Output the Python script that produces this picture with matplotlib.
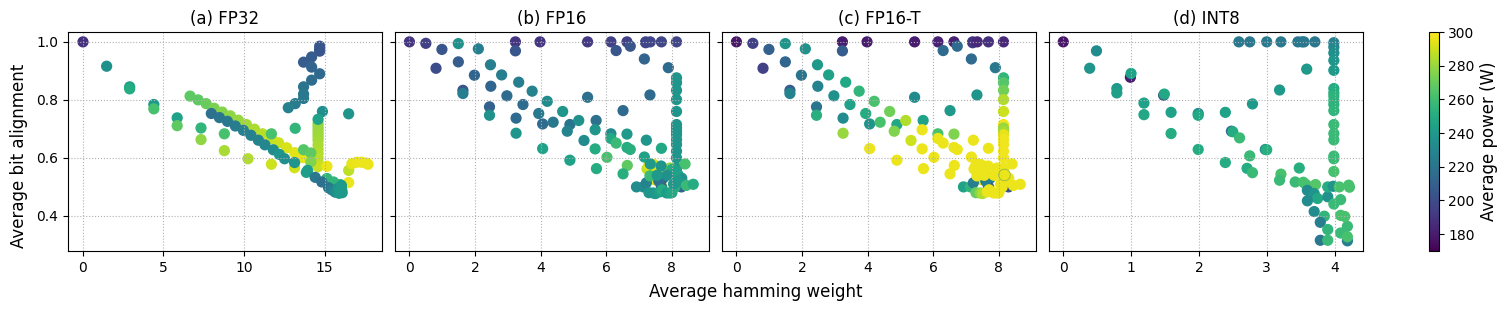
from matplotlib import pyplot as plt
from matplotlib.cm import ScalarMappable
from matplotlib.colors import Normalize

# FP32
hw_fp32 = [0, 1.47, 2.9, 2.9, 4.4, 4.4, 5.85, 5.85, 7.33, 7.33, 8.78, 8.78, 10.25, 11.7, 13.14,
           6.65, 7.15, 7.65, 8.15, 8.65, 9.15, 9.65, 10.15, 10.65, 11.15, 11.7, 12.15, 12.65, 13.15, 13.65, 14.15,
           14.6, 14.6, 14.6, 14.6, 14.6, 14.6, 14.6, 14.6, 14.6, 14.6, 14.6, 14.6, 14.6,
           11.7, 13.18, 13.7, 14.15, 14.15, 15.15, 16.5, 16.5, 16.7, 17.0, 17.3, 17.6, 17.7,
           15.15, 15.56, 15.97, 16.07, 13.87, 13.95, 13.14,
           7.97, 8.47, 8.97, 9.46, 9.96, 10.43, 10.89, 11.3, 11.82, 12.2, 12.52,
           14.42, 14.83, 15.25, 15.45, 15.66, 15.85, 15.9, 16.03, 16.03, 16.05, 16.1,
           14.7, 14.7, 14.7, 14.2, 13.7, 14.2, 14.7, 14.2, 13.7, 13.7, 13.7, 13.18, 12.75,
           14.87, 16.5, 14.6]
ba_fp32 = [1.0, 0.916, 0.845, 0.838, 0.784, 0.769, 0.738, 0.711, 0.703, 0.663, 0.683, 0.625, 0.597, 0.578, 0.566,
           0.813, 0.8, 0.787, 0.771, 0.758, 0.745, 0.73, 0.715, 0.699, 0.683, 0.667, 0.652, 0.635, 0.618, 0.601, 0.586,
           0.72, 0.71, 0.7, 0.69, 0.68, 0.67, 0.66, 0.645, 0.63, 0.615, 0.6, 0.585, 0.57,
           0.683, 0.702, 0.628, 0.617, 0.586, 0.571, 0.557, 0.515, 0.58, 0.585, 0.585, 0.582, 0.578,
           0.529, 0.517, 0.508, 0.49, 0.55, 0.557, 0.584,
           0.753, 0.739, 0.726, 0.71, 0.695, 0.678, 0.661, 0.645, 0.628, 0.612, 0.597,
           0.533, 0.517, 0.497, 0.49, 0.482, 0.495, 0.478, 0.482, 0.49, 0.505, 0.48,
           0.985, 0.975, 0.968, 0.948, 0.93, 0.913, 0.89, 0.868, 0.845, 0.82, 0.805, 0.787, 0.773,
           0.76, 0.752, 0.733]
pw_fp32 = [188, 235, 245, 250, 240, 262, 245, 268, 255, 278, 262, 283, 285, 290, 291,
           268, 268, 270, 274, 276, 278, 280, 282, 284, 286, 288, 290, 292, 294, 295, 296,
           279, 279, 280, 280, 281, 281, 282, 283, 284, 285, 286, 287, 289,
           262, 255, 265, 268, 275, 296, 287, 296, 295, 296, 296, 296, 296,
           255, 255, 255, 245, 245, 242, 238,
           218, 220, 222, 224, 226, 226, 228, 230, 232, 238, 234,
           222, 218, 220, 225, 232, 238, 240, 240, 240, 240, 240,
           205, 205, 205, 208, 208, 212, 214, 216, 220, 222, 222, 224, 226,
           234, 238, 245]

# FP16 and FP16-T share the same points
hw_fp16 = [0, 0.5, 0.99, 1.49, 2.1, 3.23, 3.23, 3.98, 5.43, 6.14, 6.3, 6.63, 6.73, 7.2, 7.2, 7.34, 7.68, 8.14,
           7.16, 7.89,
           8.14, 8.14, 8.14, 8.14, 8.14, 8.14, 8.14, 8.14, 8.14, 8.14, 8.14, 8.14, 8.14, 8.14,
           0.81, 1.49, 1.98, 2.47, 2.81, 3.33, 3.74, 1.63, 1.63, 2.48, 2.97, 3.46, 2.44, 2.44, 3.25, 3.25,
           4.2, 3.94, 4.06, 4.38, 4.67, 4.89, 4.81, 5.16, 5.43, 5.69, 5.66, 5.32, 4.06, 4.89, 5.66, 5.7, 6.02,
           6.51, 6.14, 6.14, 6.3, 6.63, 6.63, 6.73, 6.64, 6.51, 7.22, 7.68, 7.33,
           7.24, 7.45, 7.94, 7.49, 7.7, 7.3, 7.55, 7.16, 8.14,
           7.73, 7.68, 7.6, 8.29, 6.92, 7.13, 7.22,
           7.3, 7.43, 7.5, 7.64, 7.7, 7.84, 7.94, 8.0, 8.1, 7.34, 7.67, 8.4, 8.19, 8.0, 8.3, 8.14,
           7.33, 8.05, 7.85, 7.55, 8.2, 8.44, 8.65]
ba_fp16 = [1.0, 0.995, 0.974, 0.994, 0.976, 1.0, 0.969, 1.0, 1.0, 1.0, 0.97, 1.0, 0.985, 0.997, 1.0, 1.0, 1.0, 1.0,
           0.941, 0.911,
           0.876, 0.859, 0.833, 0.801, 0.76, 0.715, 0.703, 0.692, 0.68, 0.663, 0.646, 0.623, 0.6, 0.565,
           0.909, 0.931, 0.885, 0.921, 0.886, 0.861, 0.83, 0.833, 0.822, 0.847, 0.814, 0.784, 0.776, 0.747, 0.737, 0.685,
           0.795, 0.753, 0.717, 0.723, 0.76, 0.715, 0.692, 0.729, 0.809, 0.729, 0.697, 0.66, 0.632, 0.592, 0.631, 0.563, 0.602,
           0.763, 0.683, 0.667, 0.651, 0.682, 0.636, 0.629, 0.574, 0.545, 0.661, 0.633, 0.817,
           0.562, 0.577, 0.565, 0.524, 0.5, 0.575, 0.555, 0.603, 0.54,
           0.53, 0.5, 0.52, 0.5, 0.5, 0.5, 0.514,
           0.48, 0.479, 0.477, 0.483, 0.49, 0.479, 0.479, 0.48, 0.5, 0.579, 0.572, 0.579, 0.541, 0.56, 0.53, 0.555,
           0.538, 0.51, 0.54, 0.54, 0.52, 0.505, 0.509]
pw_fp16 = [190, 195, 205, 235, 225, 190, 205, 190, 192, 195, 205, 195, 205, 200, 197, 197, 197, 197,
           212, 215,
           238, 238, 238, 238, 238, 238, 238, 238, 238, 238, 238, 238, 238, 240,
           200, 208, 212, 225, 225, 225, 228, 205, 225, 212, 215, 215, 210, 235, 215, 238,
           232, 222, 215, 222, 238, 220, 228, 235, 218, 218, 238, 232, 245, 245, 250, 250, 262,
           215, 232, 248, 258, 240, 250, 252, 268, 252, 238, 248, 215,
           288, 292, 280, 294, 290, 294, 292, 245, 240,
           215, 212, 218, 208, 232, 232, 228,
           238, 238, 240, 245, 250, 242, 245, 248, 250, 240, 238, 262, 245, 250, 235, 245,
           258, 240, 235, 240, 240, 258, 250]
pw_fp16t = [178, 195, 210, 238, 235, 180, 208, 180, 180, 182, 215, 182, 215, 195, 190, 185, 188, 185,
            215, 222,
            255, 265, 272, 285, 290, 297, 280, 282, 295, 297, 297, 297, 297, 297,
            195, 212, 220, 240, 245, 248, 255, 210, 228, 228, 235, 245, 220, 252, 232, 280,
            262, 250, 238, 262, 272, 248, 275, 285, 232, 245, 296, 290, 296, 296, 296, 296, 296,
            240, 262, 296, 296, 275, 296, 296, 296, 296, 296, 296, 238,
            296, 296, 296, 296, 296, 296, 296, 296, 296,
            225, 205, 225, 205, 245, 255, 225,
            270, 278, 285, 296, 296, 296, 296, 296, 296, 296, 296, 296, 296, 296, 296, 296,
            296, 296, 296, 296, 296, 296, 296]

# the ringed run in the FP16-T panel
hw_ring = [8.17]
ba_ring = [0.541]

# INT8
hw_int8 = [0, 0.49, 0.39, 0.99, 1.0, 0.79, 0.79, 1.48, 1.49, 1.19, 1.19, 1.59, 1.59, 1.99, 1.99, 1.99, 2.39, 2.79,
           3.19, 3.59, 2.39, 2.48, 2.5, 2.6, 2.75, 2.71, 2.79, 2.98, 3.0, 3.21, 3.19, 3.48, 3.42, 3.54, 3.58, 3.72,
           3.6, 3.7, 3.75, 3.6, 3.7, 3.85, 3.79, 3.9, 3.79, 3.9, 4.19, 4.09, 4.19, 4.09, 4.15, 4.19, 4.09, 3.9, 3.99,
           3.9, 3.98, 4.07, 4.21, 4.22,
           2.59, 2.75, 3.0, 3.21, 3.46, 3.52, 3.55, 3.71,
           3.99, 3.99, 3.99, 3.99, 3.99, 3.99, 3.99, 3.99, 3.99, 3.99, 3.99, 3.99, 3.99, 3.99, 3.99, 3.99, 3.99]
ba_int8 = [1.0, 0.969, 0.909, 0.878, 0.891, 0.839, 0.824, 0.816, 0.82, 0.789, 0.749, 0.757, 0.684, 0.753, 0.747, 0.629, 0.757, 0.786,
           0.834, 0.906, 0.584, 0.692, 0.69, 0.669, 0.607, 0.564, 0.549, 0.629, 0.628, 0.544, 0.523, 0.565, 0.517, 0.516, 0.508, 0.508,
           0.488, 0.477, 0.46, 0.452, 0.415, 0.399, 0.378, 0.353, 0.316, 0.316, 0.314, 0.341, 0.364, 0.402, 0.398, 0.328, 0.456, 0.466, 0.441,
           0.5, 0.502, 0.5, 0.506, 0.499,
           1.0, 1.0, 1.0, 1.0, 1.0, 1.0, 1.0, 1.0,
           0.997, 0.982, 0.962, 0.936, 0.902, 0.839, 0.824, 0.813, 0.798, 0.784, 0.763, 0.715, 0.684, 0.662, 0.606, 0.597, 0.553]
pw_int8 = [178, 232, 238, 180, 245, 240, 243, 205, 248, 245, 248, 245, 250, 230, 248, 250, 245, 240,
           240, 240, 250, 215, 250, 258, 258, 250, 258, 232, 252, 262, 258, 252, 258, 262, 262, 265,
           232, 238, 248, 232, 232, 255, 225, 255, 222, 258, 225, 258, 258, 262, 262, 262, 258, 235, 258,
           250, 238, 262, 262, 262,
           222, 222, 222, 222, 222, 222, 222, 222,
           226, 230, 234, 238, 240, 250, 252, 254, 254, 254, 255, 258, 258, 258, 258, 258, 262]

titles = ['(a) FP32', '(b) FP16', '(c) FP16-T', '(d) INT8']
power_ticks = [180, 200, 220, 240, 260, 280, 300]

W, H = 1508, 311
fig = plt.figure(figsize=(W / 100, H / 100), dpi=100)
norm = Normalize(vmin=170, vmax=300)

panels = [(68, hw_fp32, ba_fp32, pw_fp32, (-0.93, 18.57), [0, 5, 10, 15]),
          (395, hw_fp16, ba_fp16, pw_fp16, (-0.44, 9.13), [0, 2, 4, 6, 8]),
          (722, hw_fp16, ba_fp16, pw_fp16t, (-0.44, 9.13), [0, 2, 4, 6, 8]),
          (1049, hw_int8, ba_int8, pw_int8, (-0.21, 4.42), [0, 1, 2, 3, 4])]

for i, (left, hw, ba, pw, xlim, xticks) in enumerate(panels):
    ax = fig.add_axes([left / W, 1 - 251 / H, 314 / W, 219 / H])
    ax.scatter(hw, ba, c=pw, cmap='viridis', norm=norm, s=50)
    if i == 2:
        ax.scatter(hw_ring, ba_ring, facecolors='none', edgecolors='#8fb84a', linewidths=0.6, s=70, zorder=3)
    ax.set_xlim(xlim)
    ax.set_ylim(0.279, 1.034)
    ax.set_xticks(xticks)
    ax.set_yticks([0.4, 0.6, 0.8, 1.0])
    ax.grid(True, linestyle=':')
    ax.set_title(titles[i], size=12)
    if i > 0:
        ax.set_yticklabels([])

fig.text(756 / W, 1 - 292 / H, 'Average hamming weight', size=12, ha='center', va='center')
fig.text(19 / W, 1 - 156 / H, 'Average bit alignment', size=12, ha='center', va='center', rotation=90)

cax = fig.add_axes([1429 / W, 1 - 251 / H, 9.5 / W, 219 / H])
cb = fig.colorbar(ScalarMappable(norm=norm, cmap='viridis'), cax=cax, ticks=power_ticks)
cb.set_label('Average power (W)', size=12)

plt.savefig('out.png', dpi=100)
